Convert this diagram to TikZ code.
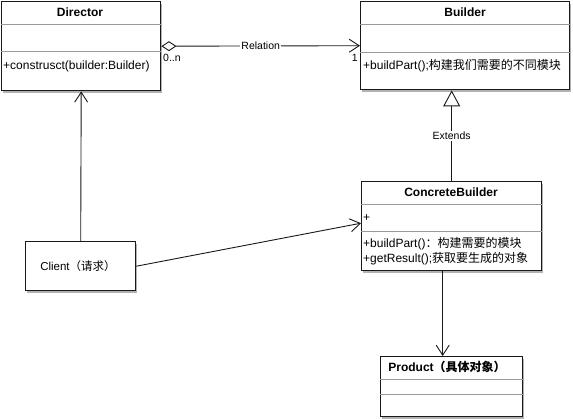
\documentclass[tikz,border=0pt]{standalone}
\usepackage{fontspec}
\setmainfont{Liberation Sans}
\newfontfamily\cjk{Noto Sans CJK SC}
\usetikzlibrary{arrows.meta,shadows}

\begin{document}
\begin{tikzpicture}[x=1pt, y=-1pt]
            \tikzset{
                classbox/.style={draw=black!90, line width=1.4pt, fill=white,
                    anchor=north west, inner sep=0pt,
                    drop shadow={shadow xshift=1.5pt, shadow yshift=-2.5pt,
                        fill=black!30, opacity=1}},
                sepline/.style={draw=black!40, line width=0.6pt},
                classname/.style={font=\fontsize{12}{14}\selectfont\bfseries, inner sep=0pt},
                member/.style={font=\fontsize{12}{14}\selectfont, anchor=west, inner sep=0pt},
                tag/.style={font=\fontsize{10.5}{12}\selectfont, inner sep=1pt},
                link/.style={line width=0.9pt, draw=black!90},
                openvee/.style={-{Straight Barb[length=10pt, width=13pt, line width=0.9pt]}}
            }
            \useasboundingbox (0,0) rectangle (573,419);

            % classes
            \node[classbox, minimum width=159pt, minimum height=89pt] (director) at (1,1) {};
            \node[classbox, minimum width=209pt, minimum height=88pt] (builder) at (360,1) {};
            \node[classbox, minimum width=180pt, minimum height=89pt] (concrete) at (361,181) {};
            \node[classbox, minimum width=110pt, minimum height=49pt] (client) at (25,241) {};
            \node[classbox, minimum width=142pt, minimum height=60pt] (product) at (380,356) {};

            \foreach \cls/\ya/\yb in {director/24/51, builder/24/52, concrete/204/231, product/379/394} {
                \draw[sepline] (\cls.west |- 0,\ya) -- (\cls.east |- 0,\ya)
                               (\cls.west |- 0,\yb) -- (\cls.east |- 0,\yb);
            }

            \node[classname] (directorname) at (80,12) {Director};
            \node[member] (directorop) at (3,66) {+construsct(builder:Builder)};

            \node[classname] (buildername) at (465,12) {Builder};
            \node[member] (builderop) at (363,66) {+buildPart();{\cjk 构建我们需要的不同模块}};

            \node[classname] (concretename) at (451,192) {ConcreteBuilder};
            \node[member] (concreteattr) at (363,218) {+};
            \node[member] (concreteop) at (363,244) {+buildPart(){\cjk ：构建需要的模块}};
            \node[member] (concreteres) at (363,259) {+getResult();{\cjk 获取要生成的对象}};

            \node[classname] (productname) at (447,367) {Product{\cjk （具体对象）}};

            \node[font=\fontsize{11.5}{13}\selectfont] (clientname) at (78,266) {Client{\cjk （请求）}};

            % relations
            \draw[link, {Diamond[length=15pt, width=10pt, fill=white, line width=0.9pt]}-{Straight Barb[length=10pt, width=13pt, line width=0.9pt]}]
                (director.east) -- (builder.west)
                node[tag, fill=white, midway] (relation) {Relation};
            \node[tag, anchor=west] (many) at (162,58) {0..n};
            \node[tag, anchor=east] (one) at (359,58) {1};

            \draw[link, -{Triangle[length=16pt, width=17pt, fill=white, line width=0.9pt]}]
                (concrete.north) -- (concrete.north |- builder.south)
                node[tag, fill=white, midway] (extends) {Extends};

            \draw[link, openvee] (client.north) -- (director.south);
            \draw[link, openvee] (client.east) -- ([yshift=3pt]concrete.west);
            \draw[link, openvee] ([xshift=-9pt]concrete.south) -- ([xshift=-9pt]concrete.south |- product.north);
        \end{tikzpicture}
\end{document}
